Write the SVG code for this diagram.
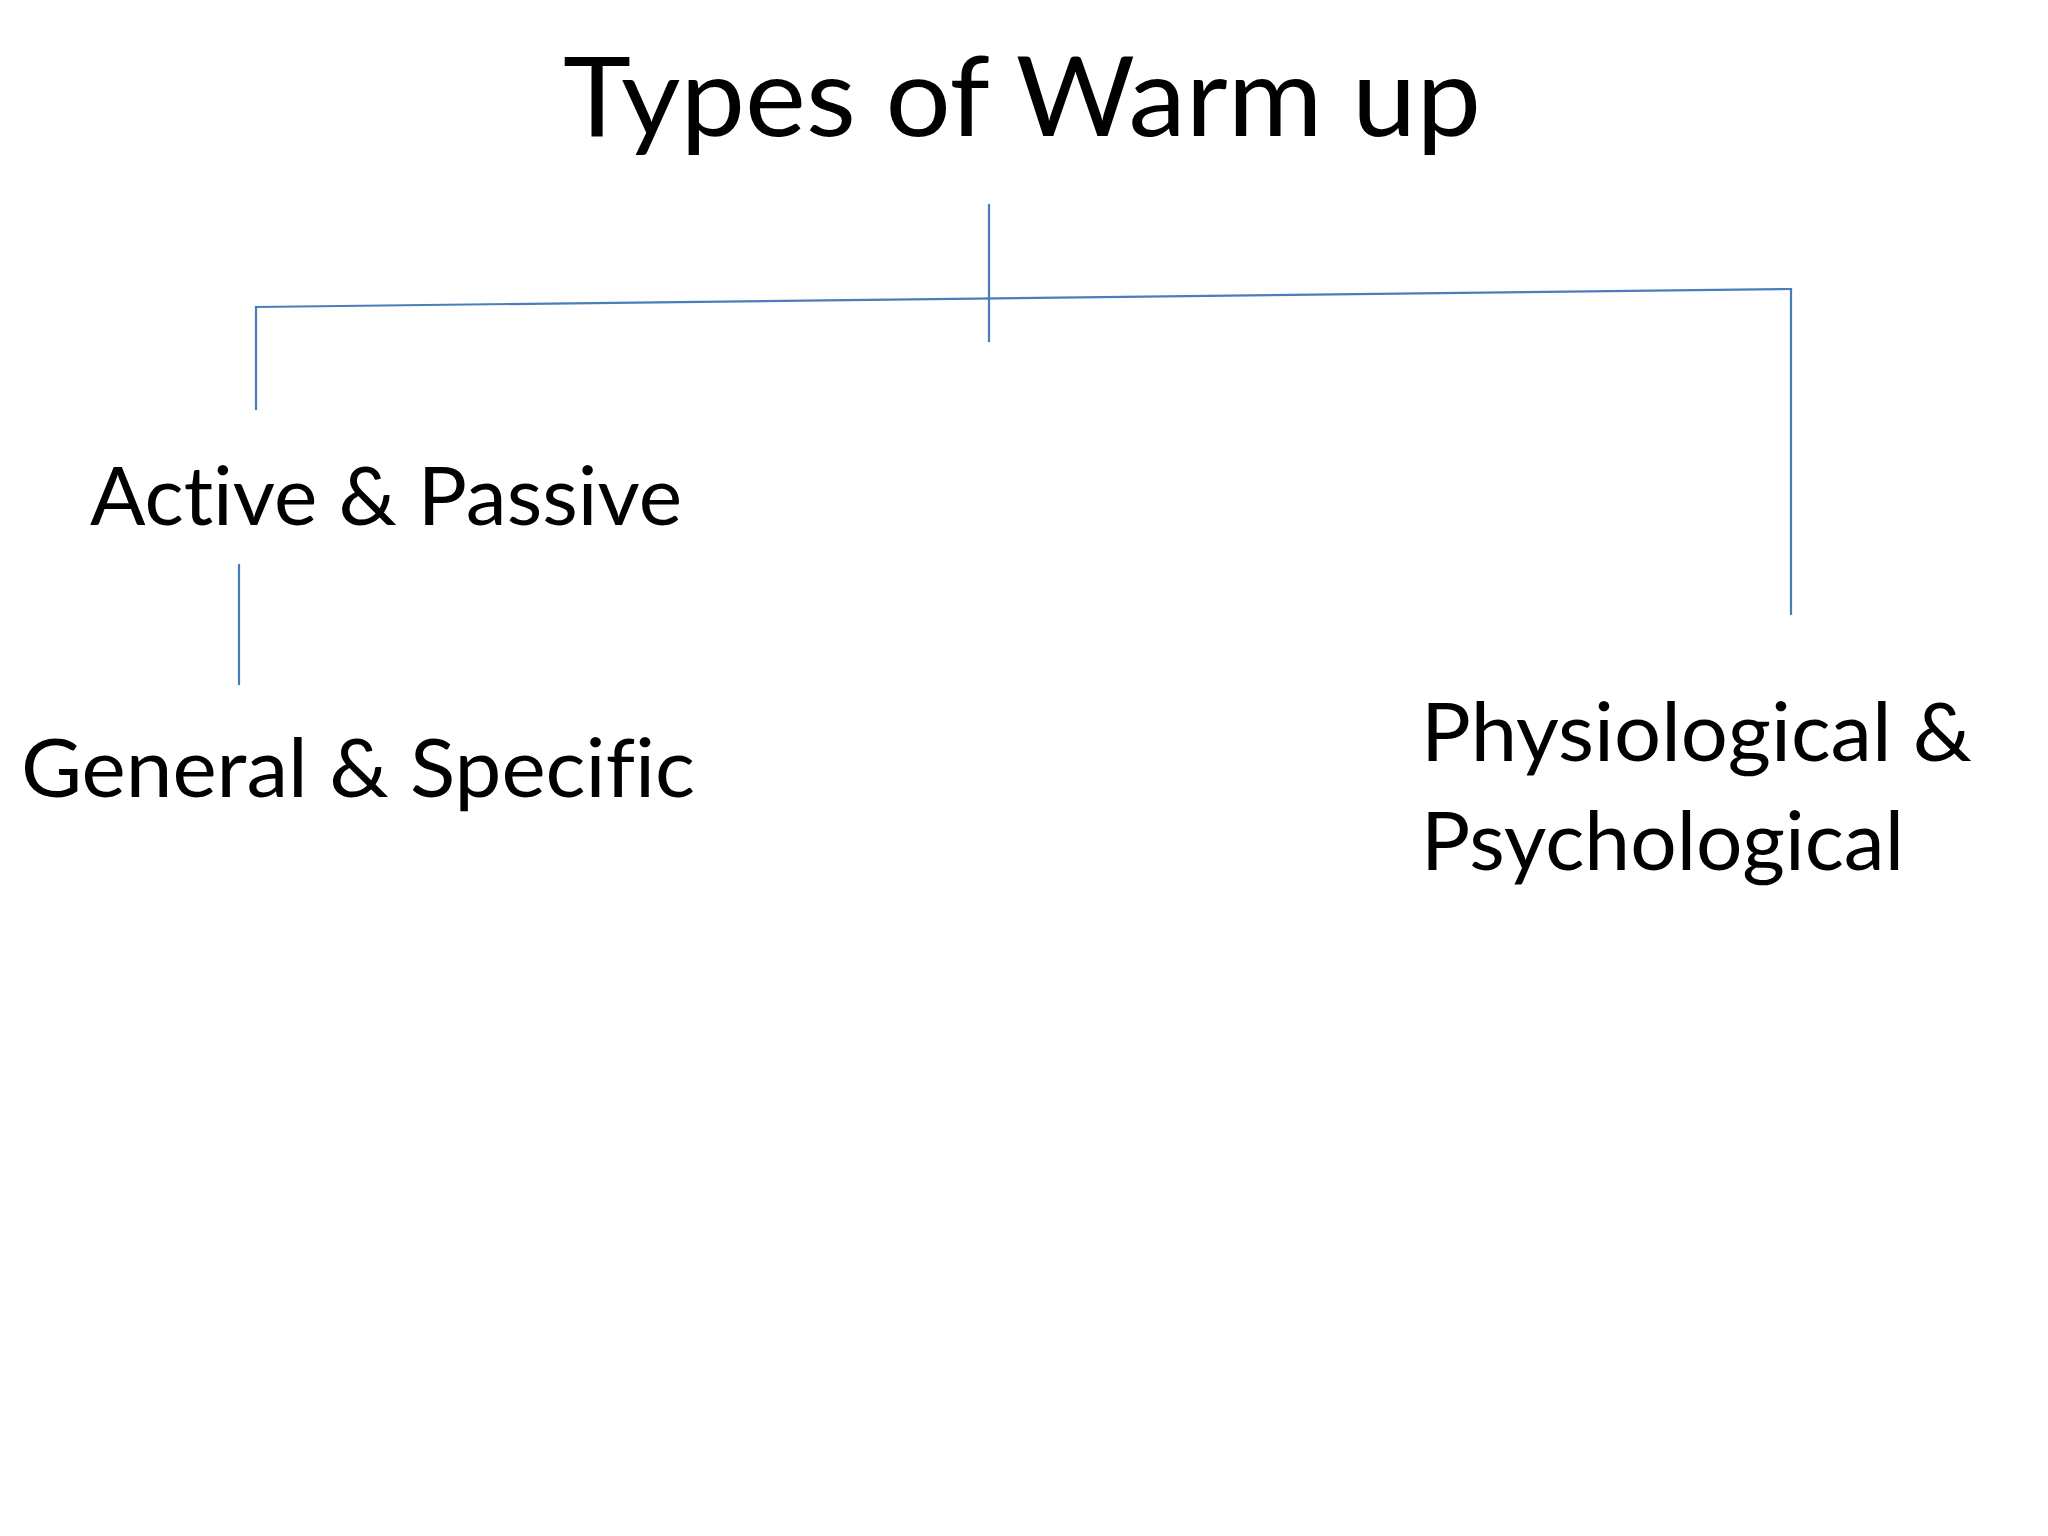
<svg xmlns="http://www.w3.org/2000/svg" width="2048" height="1536" viewBox="0 0 2048 1536">
<style>
.t{font-family:Lato,"Open Sans","Liberation Sans",sans-serif;fill:#000;font-variant-ligatures:none;font-feature-settings:"liga" 0,"dlig" 0,"clig" 0;}
.title{font-size:111px;}
.lbl{font-size:82px;}
.c{stroke:#4a7ebb;stroke-width:2.2;fill:none;stroke-linecap:square;}
</style>
<rect width="2048" height="1536" fill="#ffffff"/>
<g id="title">
<text class="t title" x="563" y="136" textLength="918" lengthAdjust="spacingAndGlyphs">Types of Warm up</text>
</g>
<g id="connectors">
<line class="c" x1="989" y1="205" x2="989" y2="341"/>
<line class="c" x1="256" y1="307" x2="1791" y2="289"/>
<line class="c" x1="256" y1="307" x2="256" y2="409"/>
<line class="c" x1="1791" y1="289" x2="1791" y2="614"/>
<line class="c" x1="239" y1="565" x2="239" y2="684"/>
</g>
<g id="active-passive">
<text class="t lbl" x="90" y="525" textLength="592" lengthAdjust="spacingAndGlyphs">Active &amp; Passive</text>
</g>
<g id="general-specific">
<text class="t lbl" x="21" y="797" textLength="674" lengthAdjust="spacingAndGlyphs">General &amp; Specific</text>
</g>
<g id="physio-psycho">
<text class="t lbl" x="1421" y="761" textLength="551" lengthAdjust="spacingAndGlyphs">Physiological &amp;</text>
<text class="t lbl" x="1421" y="870" textLength="483" lengthAdjust="spacingAndGlyphs">Psychological</text>
</g>
</svg>
